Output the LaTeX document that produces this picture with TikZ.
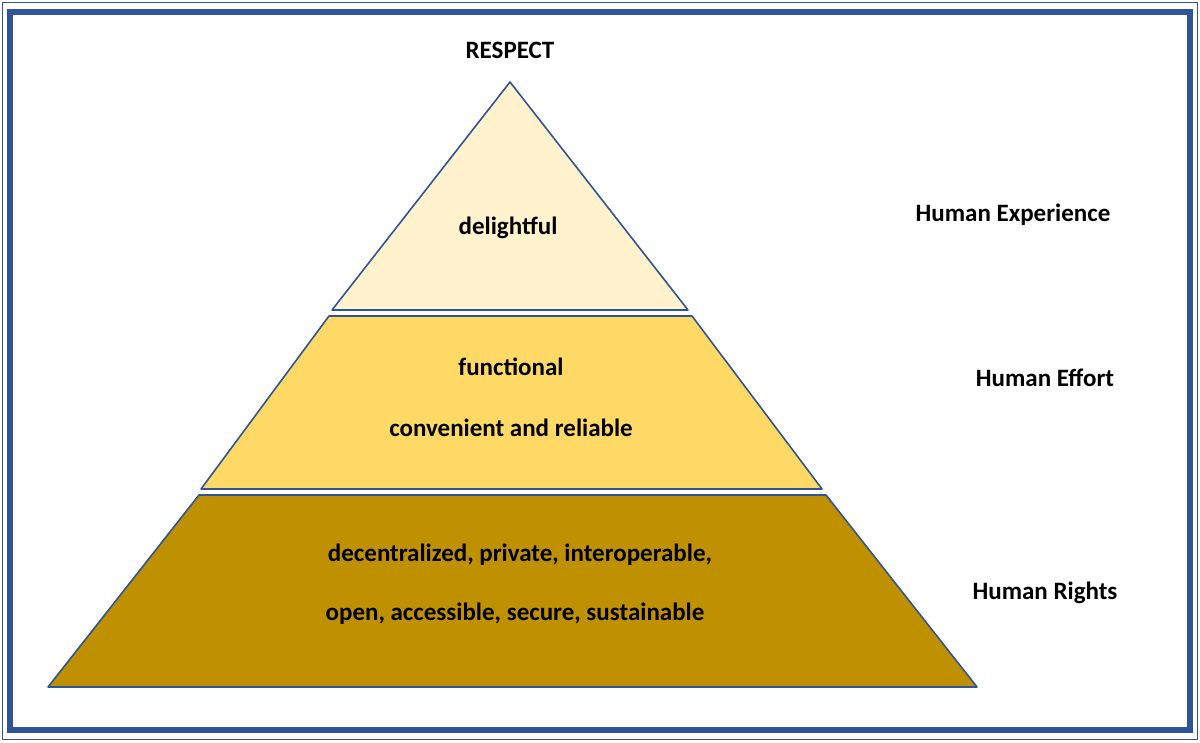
\documentclass[tikz,border=0pt]{standalone}
\usepackage{fontspec}
\setmainfont{Carlito}
\begin{document}
\begin{tikzpicture}[x=1pt,y=-1pt,
  lay/.style={draw=edge,line width=1.6pt,line join=round},
  txt/.style={font=\fontsize{25}{30}\selectfont\bfseries,text=black},
  lab/.style={txt,anchor=center}]
\definecolor{edge}{HTML}{2F5597}
\useasboundingbox (0,0) rectangle (1200,742);
\draw[edge,line width=1.5pt] (2.5,2.5) rectangle (1197.5,739.5);
\draw[edge,line width=6pt] (10,12) rectangle (1190,730);
\draw[lay,fill={rgb,255:red,255;green,242;blue,204}] (510,82) -- (688,310) -- (332,310) -- cycle;
\draw[lay,fill={rgb,255:red,255;green,217;blue,102}] (329,316) -- (692,316) -- (822,489) -- (201,489) -- cycle;
\draw[lay,fill={rgb,255:red,191;green,144;blue,0}] (199,495) -- (826,495) -- (977,687) -- (48,687) -- cycle;
\node[lab] (r) at (510,50) {RESPECT};
\node[lab] (d) at (508,228) {delightful};
\node[lab] (f) at (511,367) {functional};
\node[lab] (c) at (511,428) {convenient and reliable};
\node[lab] (d1) at (520,555) {decentralized, private, interoperable,};
\node[lab] (d2) at (515,614) {open, accessible, secure, sustainable};
\node[lab] (he) at (1013,215) {Human Experience};
\node[lab] (hf) at (1045,378) {Human Effort};
\node[lab] (hr) at (1045,593) {Human Rights};
\end{tikzpicture}
\end{document}
